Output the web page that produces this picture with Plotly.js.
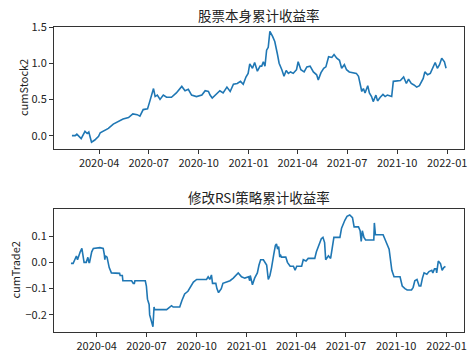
<!DOCTYPE html>
<html>
<head>
<meta charset="utf-8">
<script src="https://cdn.plot.ly/plotly-3.0.1.min.js"></script>
<style>html,body{margin:0;padding:0;background:#fff}#chart{width:474px;height:358px}</style>
</head>
<body>
<div id="chart"></div>
<script>
// ---- Data ----
const stockDates = ["2020-02-11","2020-02-17","2020-02-20","2020-02-25","2020-02-28","2020-03-06","2020-03-10","2020-03-13","2020-03-18","2020-03-24","2020-03-31","2020-04-03","2020-04-09","2020-04-18","2020-04-27","2020-05-06","2020-05-15","2020-05-25","2020-06-02","2020-06-10","2020-06-15","2020-06-21","2020-06-29","2020-07-03","2020-07-06","2020-07-10","2020-07-13","2020-07-17","2020-07-22","2020-07-28","2020-08-03","2020-08-12","2020-08-21","2020-08-31","2020-09-06","2020-09-12","2020-09-18","2020-09-27","2020-10-07","2020-10-13","2020-10-19","2020-10-22","2020-10-26","2020-11-02","2020-11-09","2020-11-15","2020-11-22","2020-11-28","2020-12-04","2020-12-11","2020-12-17","2020-12-22","2020-12-27","2020-12-31","2021-01-03","2021-01-08","2021-01-12","2021-01-17","2021-01-22","2021-01-25","2021-01-28","2021-01-31","2021-02-03","2021-02-06","2021-02-09","2021-02-14","2021-02-18","2021-02-23","2021-02-26","2021-03-03","2021-03-07","2021-03-11","2021-03-15","2021-03-19","2021-03-24","2021-03-30","2021-04-02","2021-04-07","2021-04-13","2021-04-18","2021-04-24","2021-04-30","2021-05-06","2021-05-09","2021-05-14","2021-05-19","2021-05-23","2021-05-28","2021-06-03","2021-06-07","2021-06-12","2021-06-17","2021-06-21","2021-06-26","2021-06-30","2021-07-05","2021-07-11","2021-07-18","2021-07-22","2021-07-25","2021-07-28","2021-07-31","2021-08-03","2021-08-08","2021-08-11","2021-08-15","2021-08-18","2021-08-23","2021-08-26","2021-08-31","2021-09-05","2021-09-09","2021-09-13","2021-09-17","2021-09-21","2021-09-24","2021-09-30","2021-10-07","2021-10-13","2021-10-18","2021-10-22","2021-10-27","2021-11-01","2021-11-06","2021-11-11","2021-11-15","2021-11-18","2021-11-21","2021-11-26","2021-12-01","2021-12-06","2021-12-10","2021-12-14","2021-12-18","2021-12-22","2021-12-27","2021-12-30"];
const cumStock2 = [0.0,0.0,0.02,-0.01,-0.04,0.06,0.03,0.05,-0.09,-0.06,-0.01,0.04,0.06,0.10,0.16,0.19,0.23,0.25,0.30,0.29,0.27,0.36,0.37,0.47,0.56,0.65,0.54,0.56,0.50,0.56,0.53,0.53,0.59,0.68,0.62,0.64,0.56,0.54,0.56,0.62,0.61,0.56,0.52,0.57,0.62,0.59,0.67,0.61,0.71,0.72,0.75,0.71,0.81,0.86,0.99,0.93,1.01,0.89,0.96,0.96,1.02,0.96,1.18,1.22,1.44,1.37,1.30,1.12,1.00,0.91,0.82,0.90,0.86,0.88,0.86,0.91,1.02,0.91,0.88,0.95,0.96,0.88,0.84,0.77,0.87,0.93,0.95,1.09,1.08,1.12,1.07,1.04,0.93,0.98,0.91,0.88,0.87,0.86,0.82,0.70,0.61,0.65,0.59,0.69,0.59,0.54,0.47,0.56,0.48,0.53,0.57,0.54,0.56,0.55,0.54,0.75,0.75,0.76,0.81,0.72,0.78,0.72,0.70,0.67,0.69,0.75,0.79,0.88,0.84,0.86,0.95,1.01,0.93,0.98,1.07,1.02,0.93];

const tradeDates = ["2020-02-14","2020-02-18","2020-02-21","2020-02-24","2020-02-26","2020-02-28","2020-03-02","2020-03-05","2020-03-06","2020-03-09","2020-03-13","2020-03-16","2020-03-18","2020-03-19","2020-03-23","2020-03-26","2020-04-07","2020-04-13","2020-04-15","2020-04-16","2020-04-17","2020-04-20","2020-04-24","2020-04-28","2020-05-13","2020-05-14","2020-05-18","2020-05-19","2020-06-04","2020-06-07","2020-06-09","2020-06-10","2020-06-29","2020-07-01","2020-07-03","2020-07-06","2020-07-07","2020-07-10","2020-07-13","2020-07-15","2020-07-16","2020-08-07","2020-08-10","2020-08-14","2020-08-16","2020-08-19","2020-08-31","2020-09-04","2020-09-09","2020-09-15","2020-09-21","2020-09-25","2020-10-01","2020-10-19","2020-10-22","2020-10-25","2020-10-28","2020-10-30","2020-11-05","2020-11-07","2020-11-10","2020-11-15","2020-11-18","2020-11-24","2020-12-01","2020-12-07","2020-12-13","2020-12-16","2020-12-22","2020-12-28","2021-01-04","2021-01-06","2021-01-07","2021-01-11","2021-01-15","2021-01-20","2021-01-23","2021-01-26","2021-01-31","2021-02-04","2021-02-06","2021-02-09","2021-02-12","2021-02-15","2021-02-17","2021-02-19","2021-02-22","2021-02-24","2021-02-26","2021-02-28","2021-03-02","2021-03-03","2021-03-05","2021-03-13","2021-03-16","2021-03-21","2021-03-27","2021-03-30","2021-04-02","2021-04-11","2021-04-14","2021-04-19","2021-04-23","2021-05-05","2021-05-08","2021-05-13","2021-05-17","2021-05-20","2021-05-23","2021-05-25","2021-05-30","2021-06-03","2021-06-06","2021-06-09","2021-06-20","2021-06-23","2021-06-29","2021-07-03","2021-07-08","2021-07-13","2021-07-16","2021-07-24","2021-07-27","2021-07-29","2021-07-31","2021-08-03","2021-08-06","2021-08-21","2021-08-22","2021-08-24","2021-09-07","2021-09-10","2021-09-13","2021-09-18","2021-09-23","2021-09-27","2021-10-08","2021-10-10","2021-10-12","2021-10-17","2021-10-21","2021-10-29","2021-11-01","2021-11-04","2021-11-08","2021-11-12","2021-11-15","2021-11-18","2021-11-21","2021-11-26","2021-11-30","2021-12-05","2021-12-07","2021-12-10","2021-12-13","2021-12-14","2021-12-17","2021-12-21","2021-12-24","2021-12-27","2021-12-30"];
const cumTrade2 = [-0.004,-0.004,0.01,0.024,0.01,0.025,0.04,0.053,0.04,0.0,0.0,0.019,0.0,0.0,0.04,0.053,0.056,0.053,0.03,0.01,0.025,0.02,-0.02,-0.04,-0.042,-0.05,-0.05,-0.07,-0.07,-0.08,-0.08,-0.07,-0.07,-0.09,-0.14,-0.16,-0.2,-0.225,-0.245,-0.17,-0.18,-0.18,-0.175,-0.168,-0.165,-0.17,-0.17,-0.145,-0.12,-0.11,-0.09,-0.075,-0.065,-0.065,-0.055,-0.065,-0.048,-0.08,-0.08,-0.1,-0.115,-0.1,-0.08,-0.075,-0.07,-0.06,-0.045,-0.04,-0.055,-0.06,-0.055,-0.07,-0.05,-0.085,-0.06,-0.04,-0.01,0.01,0.01,-0.005,-0.01,-0.065,-0.05,-0.02,0.0,0.03,0.065,0.07,0.05,0.06,0.02,0.03,0.02,0.02,0.0,-0.015,-0.015,-0.03,-0.015,-0.015,0.01,0.005,0.015,0.015,0.04,0.07,0.09,0.095,0.075,0.01,0.025,0.015,0.05,0.095,0.095,0.13,0.16,0.175,0.18,0.17,0.135,0.135,0.12,0.08,0.12,0.095,0.085,0.085,0.15,0.105,0.105,0.09,0.08,0.05,-0.03,-0.055,-0.055,-0.07,-0.09,-0.1,-0.105,-0.105,-0.095,-0.07,-0.065,-0.09,-0.09,-0.06,-0.04,-0.045,-0.035,-0.03,-0.04,-0.025,-0.025,-0.04,0.005,-0.005,-0.03,-0.02,-0.015];

const topTitle = "股票本身累计收益率";
const bottomTitle = "修改RSI策略累计收益率";
const topYLabel = "cumStock2";
const bottomYLabel = "cumTrade2";
const xTickVals = ["2020-04-01","2020-07-01","2020-10-01","2021-01-01","2021-04-01","2021-07-01","2021-10-01","2022-01-01"];
const xTickText = ["2020-04","2020-07","2020-10","2021-01","2021-04","2021-07","2021-10","2022-01"];
const topYTicks = [0.0, 0.5, 1.0, 1.5];
const bottomYTicks = [-0.2, -0.1, 0.0, 0.1];

// ---- Chart ----
const FONT = "Noto Sans CJK SC, Noto Sans, sans-serif";
const lineColor = "#1f77b4";
const spine = "#333333";

const traces = [
  {x: stockDates, y: cumStock2, type: "scatter", mode: "lines", line: {color: lineColor, width: 1.6}, xaxis: "x", yaxis: "y", hoverinfo: "skip"},
  {x: tradeDates, y: cumTrade2, type: "scatter", mode: "lines", line: {color: lineColor, width: 1.6}, xaxis: "x2", yaxis: "y2", hoverinfo: "skip"}
];

function xax(range, anchor) {
  return {
    type: "date", range: range, anchor: anchor,
    tickvals: xTickVals, ticktext: xTickText,
    ticks: "outside", ticklen: 4, tickwidth: 1, tickcolor: spine,
    showline: true, linecolor: spine, linewidth: 1, mirror: true,
    showgrid: false, zeroline: false,
    tickfont: {family: FONT, size: 11, color: "#222"}
  };
}
function yax(range, domain, anchor, ticks) {
  return {
    range: range, domain: domain, anchor: anchor,
    tickvals: ticks, tickformat: ".1f",
    ticks: "outside", ticklen: 4, tickwidth: 1, tickcolor: spine,
    showline: true, linecolor: spine, linewidth: 1, mirror: true,
    showgrid: false, zeroline: false,
    tickfont: {family: FONT, size: 11, color: "#222"}
  };
}

const topDomain = [0.6, 1];
const bottomDomain = [0, 0.4033];

const layout = {
  width: 474, height: 358,
  margin: {l: 54, r: 10, t: 27, b: 26},
  paper_bgcolor: "#fff", plot_bgcolor: "#fff",
  showlegend: false,
  xaxis: xax(["2020-01-09", "2022-02-01"], "y"),
  yaxis: yax([-0.184, 1.5], topDomain, "x", topYTicks),
  xaxis2: xax(["2020-01-14", "2022-02-02"], "y2"),
  yaxis2: yax([-0.265, 0.203], bottomDomain, "x2", bottomYTicks),
  annotations: [
    {text: topTitle, xref: "paper", yref: "paper", x: 0.5, y: topDomain[1], yshift: 12, xanchor: "center", yanchor: "middle", showarrow: false, font: {family: FONT, size: 13.5, color: "#222"}},
    {text: bottomTitle, xref: "paper", yref: "paper", x: 0.5, y: bottomDomain[1], yshift: 12, xanchor: "center", yanchor: "middle", showarrow: false, font: {family: FONT, size: 13.5, color: "#222"}},
    {text: topYLabel, xref: "paper", yref: "paper", x: 0, xshift: -31, y: (topDomain[0] + topDomain[1]) / 2, xanchor: "center", yanchor: "middle", textangle: -90, showarrow: false, font: {family: FONT, size: 11, color: "#222"}},
    {text: bottomYLabel, xref: "paper", yref: "paper", x: 0, xshift: -39, y: (bottomDomain[0] + bottomDomain[1]) / 2, xanchor: "center", yanchor: "middle", textangle: -90, showarrow: false, font: {family: FONT, size: 11, color: "#222"}}
  ]
};

Plotly.newPlot("chart", traces, layout, {staticPlot: true, displayModeBar: false});
</script>
</body>
</html>
